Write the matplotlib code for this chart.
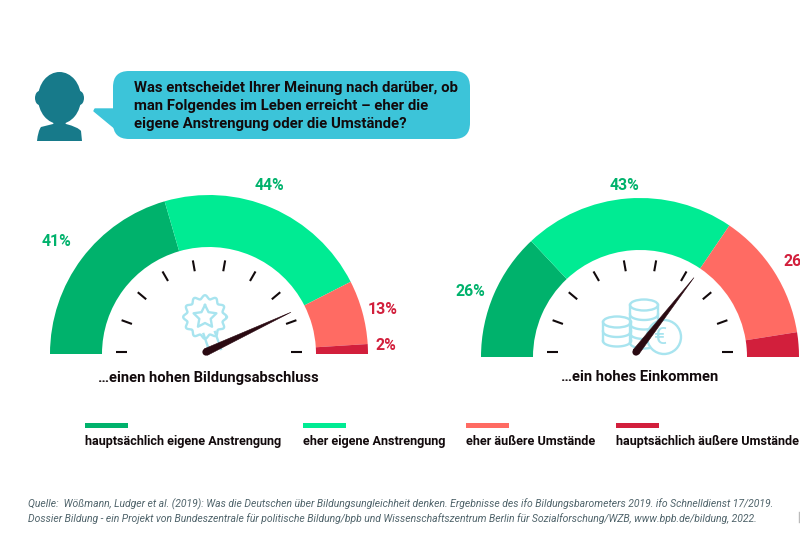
import numpy as np
import matplotlib
matplotlib.use("Agg")
import matplotlib.pyplot as plt
from matplotlib.patches import Wedge, Circle, Ellipse, FancyBboxPatch, Rectangle, Polygon, PathPatch
from matplotlib.path import Path

# Survey shares in percent, left to right along each gauge
education_values = [41, 44, 13, 2]
income_values = [26, 43, 26, 5]
gauge_titles = ["…einen hohen Bildungsabschluss", "…ein hohes Einkommen"]
category_labels = ["hauptsächlich eigene Anstrengung", "eher eigene Anstrengung",
                   "eher äußere Umstände", "hauptsächlich äußere Umstände"]
category_colors = ["#00B26C", "#00EB93", "#FF6B63", "#D21F3C"]
question = ("Was entscheidet Ihrer Meinung nach darüber, ob\n"
            "man Folgendes im Leben erreicht – eher die\n"
            "eigene Anstrengung oder die Umstände?")
source_lines = ["Quelle:  Wößmann, Ludger et al. (2019): Was die Deutschen über Bildungsungleichheit denken. "
                "Ergebnisse des ifo Bildungsbarometers 2019. ifo Schnelldienst 17/2019.",
                "Dossier Bildung - ein Projekt von Bundeszentrale für politische Bildung/bpb und "
                "Wissenschaftszentrum Berlin für Sozialforschung/WZB, www.bpb.de/bildung, 2022."]

plt.rcParams["font.family"] = ["Roboto", "DejaVu Sans"]
W, H = 800, 534
INK = "#120A0C"
NEEDLE = "#2A0A12"
ICON = "#A8E4EF"
BUBBLE = "#3CC4D9"
PERSON = "#177A8A"

fig = plt.figure(figsize=(W / 100, H / 100), dpi=100)
ax = fig.add_axes([0, 0, 1, 1])
ax.set_xlim(0, W)
ax.set_ylim(0, H)
ax.axis("off")


def Y(y):
    """Convert a distance from the top edge into the upward axis coordinate."""
    return H - y


def polar(cx, cy, r, deg):
    a = np.radians(deg)
    return cx + r * np.cos(a), Y(cy) + r * np.sin(a)


def draw_gauge(values, cx, cy, tick_y, label_xy):
    cum = np.concatenate([[0], np.cumsum(values)])
    angles = 180 - cum / cum[-1] * 180
    for i, col in enumerate(category_colors):
        ax.add_patch(Wedge((cx, Y(cy)), 159, angles[i + 1], angles[i], width=52,
                           facecolor=col, edgecolor="none", zorder=2))
    # Dial ticks
    for deg in np.linspace(180, 0, 10):
        p0, p1 = polar(cx, tick_y, 82, deg), polar(cx, tick_y, 93, deg)
        ax.plot([p0[0], p1[0]], [p0[1], p1[1]], color=INK, lw=1.5,
                solid_capstyle="butt", zorder=3)
    # Percentage labels
    for i, (v, (lx, ly)) in enumerate(zip(values, label_xy)):
        col = "#00B26C" if i < 2 else "#D21F3C"
        ax.text(lx, Y(ly), f"{v}%", color=col, fontsize=11.4, fontweight="bold",
                ha="center", va="center", zorder=4)
    return angles[2]


def draw_needle(px, py, tip_deg, cx, cy, length):
    tx, ty = polar(cx, cy, length, tip_deg)
    pyy = Y(py)
    d = np.array([tx - px, ty - pyy])
    d = d / np.hypot(*d)
    n = np.array([-d[1], d[0]])
    half = 3.6
    ax.add_patch(Polygon([(px + n[0] * half, pyy + n[1] * half), (tx, ty),
                          (px - n[0] * half, pyy - n[1] * half)],
                         closed=True, facecolor=NEEDLE, edgecolor=NEEDLE, lw=0.4, zorder=6))
    ax.add_patch(Circle((px, pyy), half, facecolor=NEEDLE, edgecolor="none", zorder=6))


# Gauges
tip1 = draw_gauge(education_values, 209, 354, 352,
                  [(56.5, 241), (269, 185), (382.5, 309), (386, 345)])
tip2 = draw_gauge(income_values, 640, 357, 352,
                  [(470.5, 291), (624.5, 185), (798, 261)])

# Medal icon
theta = np.linspace(0, 2 * np.pi, 361)
rad = 20 + 1.8 * np.cos(12 * theta)
ax.plot(205 + rad * np.cos(theta), Y(317) + rad * np.sin(theta), color=ICON, lw=1.7, zorder=3)
star_a = np.radians(90 + np.arange(11) * 36)
star_r = np.where(np.arange(11) % 2 == 0, 12, 6)
ax.plot(205 + star_r * np.cos(star_a), Y(317) + star_r * np.sin(star_a), color=ICON, lw=1.7, zorder=3)
ax.plot([203.5, 209], [Y(334), Y(350)], color=ICON, lw=1.7, zorder=3)
ax.plot([215, 221], [Y(332), Y(349)], color=ICON, lw=1.7, zorder=3)


# Coin stacks and euro coin
def coin_stack(x, y_top, n, rx=14, ry=5.5, step=9.5):
    ax.add_patch(Ellipse((x, Y(y_top)), 2 * rx, 2 * ry, fill=False, edgecolor=ICON, lw=1.7, zorder=3))
    t = np.linspace(np.pi, 2 * np.pi, 40)
    for k in range(1, n + 1):
        ax.plot(x + rx * np.cos(t), Y(y_top + k * step) + ry * np.sin(t), color=ICON, lw=1.7, zorder=3)
    ax.plot([x - rx, x - rx], [Y(y_top), Y(y_top + n * step)], color=ICON, lw=1.7, zorder=3)
    ax.plot([x + rx, x + rx], [Y(y_top), Y(y_top + n * step)], color=ICON, lw=1.7, zorder=3)


coin_stack(644, 305, 4)
coin_stack(617, 322, 2)
ax.add_patch(Circle((664, Y(337)), 17, facecolor="white", edgecolor=ICON, lw=1.7, zorder=4))
ax.text(661, Y(337), "€", color=ICON, fontsize=17, ha="center", va="center", zorder=4)

draw_needle(206, 352, tip1, 209, 354, 92)
draw_needle(636, 352, tip2, 640, 357, 96)

# Gauge titles
ax.text(208, Y(378), gauge_titles[0], color=INK, fontsize=10.65, fontweight="bold", ha="center", va="center")
ax.text(640, Y(377), gauge_titles[1], color=INK, fontsize=10.65, fontweight="bold", ha="center", va="center")

# Legend swatches and labels
legend_x = [85, 303, 466, 616]
for x, lab, col in zip(legend_x, category_labels, category_colors):
    ax.add_patch(Rectangle((x, Y(427.5)), 43, 5, facecolor=col, edgecolor="none"))
    ax.text(x, Y(441.5), lab, color=INK, fontsize=9.05, fontweight="bold", ha="left", va="center")

# Source note
for y, line in zip([504, 518.5], source_lines):
    ax.text(28, Y(y), line, color="#50646B", fontsize=7.5, style="italic", ha="left", va="center")
ax.plot([798.5, 798.5], [Y(512), Y(522)], color="#BBBBBB", lw=1)

# Speech bubble
bubble = FancyBboxPatch((128, Y(124)), 327, 38, boxstyle="round,pad=15,rounding_size=16",
                        facecolor=BUBBLE, edgecolor="none", zorder=1, mutation_scale=1)
ax.add_patch(bubble)
ax.add_patch(Polygon([(116, Y(109)), (95, Y(109)), (94, Y(111)), (117, Y(130))], closed=True,
                     facecolor=BUBBLE, edgecolor=BUBBLE, lw=1, joinstyle="round", zorder=1))
ax.text(134, Y(106), question, color=INK, fontsize=10.7, fontweight="bold", ha="left", va="center",
        linespacing=1.39, zorder=2)

# Person silhouette
ax.add_patch(Ellipse((59.5, Y(98)), 43, 52, facecolor=PERSON, edgecolor="none"))
ax.add_patch(Ellipse((39.5, Y(98)), 9, 14, facecolor=PERSON, edgecolor="none"))
ax.add_patch(Ellipse((79.5, Y(98)), 9, 14, facecolor=PERSON, edgecolor="none"))
body = Path([(52, Y(118)), (67, Y(118)), (64, Y(121)), (65, Y(122.5)), (66, Y(124)),
             (78, Y(127)), (81, Y(131)), (82, Y(141)), (37, Y(141)), (38, Y(131)),
             (41, Y(127)), (53, Y(124)), (54, Y(122.5)), (55, Y(121)), (52, Y(118)), (52, Y(118))],
            [Path.MOVETO, Path.LINETO, Path.CURVE3, Path.CURVE3, Path.LINETO,
             Path.CURVE3, Path.CURVE3, Path.LINETO, Path.LINETO, Path.CURVE3, Path.CURVE3,
             Path.LINETO, Path.CURVE3, Path.CURVE3, Path.LINETO, Path.CLOSEPOLY])
ax.add_patch(PathPatch(body, facecolor=PERSON, edgecolor="none"))

fig.savefig("out.png", dpi=100, facecolor="white")
